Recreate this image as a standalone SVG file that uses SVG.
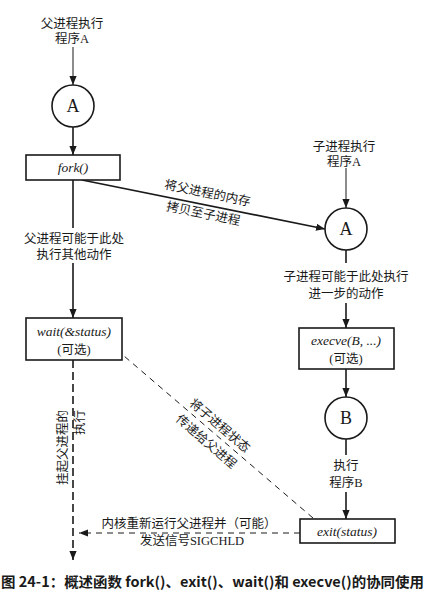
<svg xmlns="http://www.w3.org/2000/svg" width="426" height="602" viewBox="0 0 426 602">
<style>
.bg{fill:#ffffff}
.lbl{font-family:"Liberation Serif","Noto Sans CJK SC",serif;font-size:12.5px;fill:#1a1a1a;text-anchor:middle}
.fn{font-family:"Liberation Serif","Noto Sans CJK SC",serif;font-size:13.5px;font-style:italic;fill:#1a1a1a;text-anchor:middle}
.opt{font-family:"Liberation Serif","Noto Sans CJK SC",serif;font-size:12.5px;fill:#1a1a1a;text-anchor:middle}
.letter{font-family:"Liberation Serif",serif;font-size:18px;fill:#1a1a1a;text-anchor:middle}
.box{fill:#ffffff;stroke:#1a1a1a;stroke-width:1.6}
.circ{fill:#ffffff;stroke:#1a1a1a;stroke-width:1.6}
.solid{fill:none;stroke:#1a1a1a;stroke-width:1.6}
.thin{fill:none;stroke:#1a1a1a;stroke-width:1}
.dash{fill:none;stroke:#1a1a1a;stroke-width:1.6;stroke-dasharray:8 4}
.dashthin{fill:none;stroke:#1a1a1a;stroke-width:1;stroke-dasharray:6 5}
.cap{font-family:"Noto Sans CJK SC","Liberation Sans",sans-serif;font-size:14px;font-weight:bold;fill:#1a1a1a}
</style>
<defs>
<marker id="arr" viewBox="0 0 10 8" refX="10" refY="4" markerWidth="9" markerHeight="7.5" markerUnits="userSpaceOnUse" orient="auto">
<path d="M0,0 L10,4 L0,8 z" fill="#1a1a1a"/>
</marker>
</defs>
<rect class="bg" x="0" y="0" width="426" height="602"/>

<g id="connectors">
<line class="thin" x1="73" y1="47" x2="73" y2="85" marker-end="url(#arr)"/>
<line class="solid" x1="73" y1="127" x2="73" y2="155" marker-end="url(#arr)"/>
<line class="solid" x1="73" y1="180" x2="73" y2="228"/>
<line class="solid" x1="73" y1="263" x2="73" y2="318" marker-end="url(#arr)"/>
<line class="solid" x1="82" y1="180" x2="325" y2="229" marker-end="url(#arr)"/>
<line class="dash" x1="73" y1="360" x2="73" y2="560" marker-end="url(#arr)"/>
<line class="thin" x1="346" y1="168" x2="346" y2="208" marker-end="url(#arr)"/>
<line class="solid" x1="346" y1="250" x2="346" y2="263"/>
<line class="solid" x1="346" y1="303" x2="346" y2="328" marker-end="url(#arr)"/>
<line class="solid" x1="346" y1="369" x2="346" y2="397" marker-end="url(#arr)"/>
<line class="solid" x1="346" y1="439" x2="346" y2="455"/>
<line class="solid" x1="346" y1="492" x2="346" y2="519" marker-end="url(#arr)"/>
<line class="dashthin" x1="313" y1="518" x2="110" y2="344" marker-end="url(#arr)"/>
<line class="dashthin" x1="300" y1="533" x2="79" y2="533" marker-end="url(#arr)"/>

<g transform="translate(205,205) rotate(11.5)">
<text class="lbl" x="0" y="-8">将父进程的内存</text>
<text class="lbl" x="0" y="13">拷贝至子进程</text>
</g>
<g transform="translate(213.5,433) rotate(40.6)">
<text class="lbl" x="0" y="-5.5">将子进程状态</text>
<text class="lbl" x="0" y="15.5">传递给父进程</text>
</g>
<text class="lbl" x="74" y="243">父进程可能于此处</text>
<text class="lbl" x="74" y="259">执行其他动作</text>
<text class="lbl" x="346" y="281">子进程可能于此处执行</text>
<text class="lbl" x="346" y="298">进一步的动作</text>
<text class="lbl" x="346" y="470">执行</text>
<text class="lbl" x="346" y="487">程序B</text>
<text class="lbl" x="189" y="528">内核重新运行父进程并（可能）</text>
<text class="lbl" x="192" y="545">发送信号SIGCHLD</text>
<g transform="translate(0,410) rotate(-90)">
<text class="lbl" style="text-anchor:end" x="0" y="67">挂起父进程的</text>
<text class="lbl" style="text-anchor:end" x="0" y="84">执行</text>
</g>
</g>

<g id="parent-start">
<text class="lbl" x="72" y="28">父进程执行</text>
<text class="lbl" x="72" y="43">程序A</text>
</g>
<g id="parent-A">
<circle class="circ" cx="73" cy="106" r="21"/>
<text class="letter" x="73" y="112">A</text>
</g>
<g id="fork">
<rect class="box" x="26" y="155" width="94" height="25"/>
<text class="fn" x="73" y="172">fork()</text>
</g>
<g id="wait">
<rect class="box" x="26" y="318" width="96" height="42"/>
<text class="fn" x="74" y="336">wait(&amp;status)</text>
<text class="opt" x="74" y="354">(可选)</text>
</g>
<g id="child-start">
<text class="lbl" x="344" y="151">子进程执行</text>
<text class="lbl" x="344" y="166">程序A</text>
</g>
<g id="child-A">
<circle class="circ" cx="346" cy="229" r="21"/>
<text class="letter" x="346" y="235">A</text>
</g>
<g id="execve">
<rect class="box" x="299" y="328" width="95" height="41"/>
<text class="fn" x="346" y="345">execve(B, ...)</text>
<text class="opt" x="346" y="363">(可选)</text>
</g>
<g id="child-B">
<circle class="circ" cx="346" cy="418" r="21"/>
<text class="letter" x="346" y="424">B</text>
</g>
<g id="exit">
<rect class="box" x="300" y="519" width="95" height="24"/>
<text class="fn" x="347" y="536">exit(status)</text>
</g>

<text class="cap" x="1" y="587" textLength="423" lengthAdjust="spacingAndGlyphs">图 24-1：概述函数 fork()、exit()、wait()和 execve()的协同使用</text>
</svg>
